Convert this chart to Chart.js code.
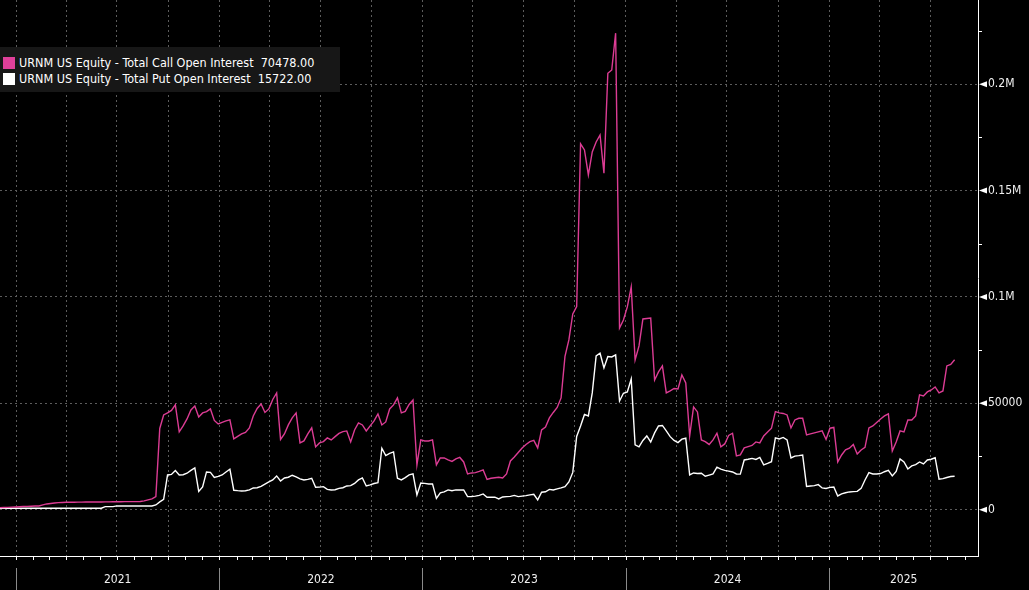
<!DOCTYPE html>
<html>
<head>
<meta charset="utf-8">
<script src="https://cdn.jsdelivr.net/npm/chart.js@4.4.1/dist/chart.umd.min.js"></script>
<style>
  html, body { margin: 0; padding: 0; background: #000; }
  #wrap { position: relative; width: 1029px; height: 590px; }
  #legend { position: absolute; left: 0; top: 47px; width: 340px; height: 45px; background: #171717;
            font: 12.5px "DejaVu Sans Condensed", "DejaVu Sans", sans-serif; color: #fff; }
  .row { position: absolute; left: 3px; height: 12px; line-height: 12px; white-space: nowrap; }
  .sw { display: inline-block; width: 12px; height: 12px; vertical-align: top; margin-right: 4px; }
</style>
</head>
<body>
<div id="wrap">
  <canvas id="myChart" width="1029" height="590"></canvas>
  <div id="legend">
    <div class="row" style="top:10px"><span class="sw" style="background:#e0409a"></span>URNM US Equity - Total Call Open Interest&nbsp; 70478.00</div>
    <div class="row" style="top:26px"><span class="sw" style="background:#fff"></span>URNM US Equity - Total Put Open Interest&nbsp; 15722.00</div>
  </div>
</div>
<script>
// weekly observations starting from this date
const FIRST_WEEK = Date.UTC(2020, 11, 3);
const DAY = 86400000;
const X_MIN = Date.UTC(2020, 11, 3);
const X_MAX = Date.UTC(2025, 8, 25);
const YEARS = [2021, 2022, 2023, 2024, 2025];
const Y_TICKS = [0, 50000, 100000, 150000, 200000];
const FONT = 'DejaVu Sans Condensed';

const callOI = [
  940,1030,1080,1180,1270,1360,1460,1550,1600,1690,
  1740,2210,2680,2910,3150,3290,3380,3480,3480,3480,
  3530,3530,3570,3570,3620,3620,3620,3670,3670,3710,
  3710,3710,3760,3760,3760,3760,3850,4090,4560,5030,
  6110,38170,44520,45460,46630,49220,36530,39350,42640,46870,
  48750,43580,45460,46070,47340,41930,40290,40990,41700,42170,
  33240,34410,35590,36290,38410,44050,47570,49690,45690,47340,
  51800,54860,33000,35590,39820,43110,45460,31360,32300,35590,
  38410,29480,31360,31970,33710,32770,34320,35820,36670,37000,
  31830,37470,40760,39820,37000,39350,41700,44990,39820,41230,
  47340,49220,52510,45460,46160,49450,51570,21010,32770,32300,
  32300,32770,21010,24300,24300,23360,22660,23830,24540,22420,
  16780,17250,17390,17960,18660,14200,14760,15000,15230,14900,
  16780,22890,24770,26890,29010,30650,31970,32530,29010,37470,
  38880,43110,45690,48040,52510,72020,79780,92000,95430,172000,
  169100,157340,168160,172860,176150,158140,205150,206710,224000,85420,
  89180,95290,104690,70370,76950,89650,89880,90120,60970,64730,
  67550,54860,55800,56980,56740,63320,59560,34650,48280,45930,
  32770,31970,30650,32770,35920,29480,30890,34880,35920,25240,
  25710,29010,29620,30180,31830,31360,34650,36530,38270,46070,
  45460,45220,44520,38410,42170,42970,42970,35120,35590,36060,
  36530,37000,33000,38270,38640,22420,25710,28070,28860,30650,
  26180,28070,29240,38410,39350,40990,42640,44050,45000,27600,
  31830,37000,36530,42170,42170,44050,53920,53450,55330,56270,
  57680,54860,55800,67550,68260,70478
];

const putOI = [
  660,660,660,660,660,660,660,660,660,660,
  660,660,660,660,660,660,660,660,660,660,
  660,660,660,660,660,660,660,1410,1410,1410,
  1740,1740,1740,1740,1740,1740,1740,1740,1740,1740,
  2210,3620,4800,16310,16550,18430,16310,16410,17110,18430,
  19600,8560,10670,17720,17490,15140,15610,16310,17720,18990,
  9120,8930,8790,8890,9260,10200,10300,10910,11990,13020,
  13960,15840,13490,14900,15230,16170,15370,14430,13960,14200,
  14760,10530,10580,10810,9500,9260,9350,9970,10300,11140,
  11280,12320,13960,14900,11140,11610,12270,12690,28860,25430,
  26420,27120,14760,13960,15040,16310,16780,6910,12550,12320,
  12080,12080,5270,7850,8320,9260,8890,9260,9260,9260,
  6110,6160,6350,6680,7380,5830,5830,5830,5030,5970,
  6110,6250,6680,6110,6350,6580,6910,7240,4560,8180,
  8410,9500,9260,9730,10200,10810,13020,17490,34410,39350,
  44750,44050,54860,72250,73520,66610,72020,71780,72720,51100,
  54720,55330,61440,30420,29480,32530,34650,31830,36060,39350,
  39580,37000,34320,32530,31500,33140,33570,16310,17250,17020,
  17110,15700,16220,16780,19930,19040,18480,18100,17720,16780,
  16690,23360,23690,24070,23600,24540,21010,21720,22560,33710,
  33240,33940,32770,24300,25150,25390,25710,10910,11140,11280,
  11750,10200,9970,10440,10670,6440,7380,7940,8320,8460,
  8560,9970,13960,17390,16780,16780,16970,17820,18430,15840,
  17960,23830,22420,19130,20540,21150,22420,21480,23360,23690,
  24400,14340,14570,15090,15560,15722
];

const weeks = callOI.map((_, i) => FIRST_WEEK + i * 7 * DAY);

// year label sits in the middle of the visible part of each year
const yearLabelAt = {};
YEARS.forEach(yr => {
  const a = Math.max(Date.UTC(yr, 0, 1), X_MIN);
  const b = Math.min(Date.UTC(yr + 1, 0, 1), X_MAX);
  yearLabelAt[(a + b) / 2] = String(yr);
});

const decorations = {
  id: 'decorations',
  afterDraw(chart) {
    const {ctx, chartArea, scales: {x, y}} = chart;
    ctx.save();
    ctx.lineWidth = 1;
    ctx.strokeStyle = '#ffffff';
    // monthly ticks under the axis
    for (let yr = 2020; yr <= 2025; yr++) {
      for (let m = 0; m < 12; m++) {
        const t = Date.UTC(yr, m, 1);
        if (t < X_MIN || t > X_MAX) continue;
        const px = Math.round(x.getPixelForValue(t)) + 0.5;
        ctx.beginPath();
        ctx.moveTo(px, chartArea.bottom);
        ctx.lineTo(px, chartArea.bottom + 4);
        ctx.stroke();
      }
    }
    // year separators
    ctx.strokeStyle = '#8a8a8a';
    YEARS.forEach(yr => {
      const px = Math.round(x.getPixelForValue(Date.UTC(yr, 0, 1))) + 0.5;
      ctx.beginPath();
      ctx.moveTo(px, chartArea.bottom + 12);
      ctx.lineTo(px, chart.height);
      ctx.stroke();
    });
    // minor ticks on the right axis
    ctx.strokeStyle = '#ffffff';
    for (let v = 25000; v < 240000; v += 50000) {
      const py = Math.round(y.getPixelForValue(v)) + 0.5;
      ctx.beginPath();
      ctx.moveTo(chartArea.right, py);
      ctx.lineTo(chartArea.right + 4, py);
      ctx.stroke();
    }
    // triangles at the labelled ticks
    ctx.fillStyle = '#ffffff';
    Y_TICKS.forEach(v => {
      const py = y.getPixelForValue(v);
      ctx.beginPath();
      ctx.moveTo(chartArea.right + 1, py);
      ctx.lineTo(chartArea.right + 9, py - 3);
      ctx.lineTo(chartArea.right + 9, py + 3);
      ctx.closePath();
      ctx.fill();
    });
    ctx.restore();
  }
};

const CHART = document.getElementById('myChart');
const myChart = new Chart(CHART, {
  type: 'line',
  data: {
    datasets: [{
      label: 'URNM US Equity - Total Call Open Interest',
      data: weeks.map((t, i) => ({x: t, y: callOI[i]})),
      borderColor: '#dc3c94',
      borderWidth: 1.4,
      pointRadius: 0,
      tension: 0
    }, {
      label: 'URNM US Equity - Total Put Open Interest',
      data: weeks.map((t, i) => ({x: t, y: putOI[i]})),
      borderColor: '#ffffff',
      borderWidth: 1.4,
      pointRadius: 0,
      tension: 0
    }]
  },
  options: {
    responsive: false,
    animation: false,
    layout: { padding: 0 },
    plugins: { legend: { display: false }, tooltip: { enabled: false } },
    scales: {
      x: {
        type: 'linear',
        min: X_MIN,
        max: X_MAX,
        afterBuildTicks: scale => {
          const t = [];
          for (let yr = 2021; yr <= 2025; yr++) {
            for (let m = 0; m < 12; m += 3) {
              const v = Date.UTC(yr, m, 1);
              if (v < X_MAX) t.push(v);
            }
          }
          Object.keys(yearLabelAt).forEach(k => t.push(Number(k)));
          t.sort((a, b) => a - b);
          scale.ticks = t.map(v => ({value: v}));
        },
        afterFit: scale => {
          scale.height = 34;
          scale.paddingLeft = 0;
          scale.paddingRight = 0;
        },
        grid: {
          color: c => (c.tick && c.tick.label) ? 'rgba(0,0,0,0)' : '#5c5c5c',
          drawTicks: false
        },
        border: { color: '#ffffff', width: 1, dash: [2, 3] },
        ticks: {
          autoSkip: false,
          maxRotation: 0,
          minRotation: 0,
          padding: 17,
          color: '#f0f0f0',
          font: { family: FONT, size: 12 },
          callback: v => yearLabelAt[v] || ''
        }
      },
      y: {
        position: 'right',
        min: -21800,
        max: 239600,
        afterBuildTicks: scale => {
          scale.ticks = Y_TICKS.map(v => ({value: v}));
        },
        afterFit: scale => {
          scale.width = 51;
          scale.paddingTop = 0;
          scale.paddingBottom = 0;
        },
        grid: { color: '#5c5c5c', drawTicks: false },
        border: { color: '#ffffff', width: 1, dash: [2, 3] },
        ticks: {
          padding: 10,
          color: '#f0f0f0',
          font: { family: FONT, size: 12 },
          callback: v => v === 0 ? '0' : (v < 100000 ? String(v) : (v / 1000000) + 'M')
        }
      }
    }
  },
  plugins: [decorations]
});
</script>
</body>
</html>
